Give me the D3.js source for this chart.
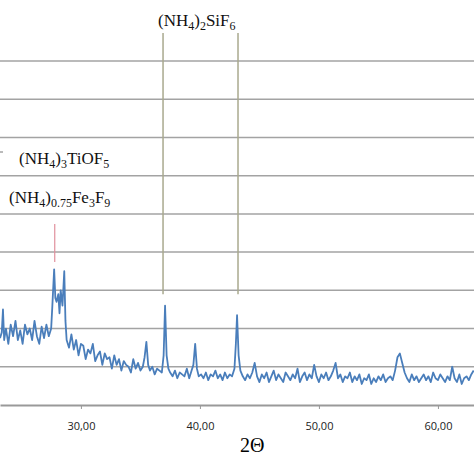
<!DOCTYPE html>
<html>
<head>
<meta charset="utf-8">
<script src="https://cdn.jsdelivr.net/npm/d3@7"></script>
<style>
  body { margin: 0; background: #fff; }
  .tick-label { font-family: "Open Sans", "DejaVu Sans", sans-serif; font-size: 11px; fill: #222; }
  .phase { font-family: "Liberation Serif", "DejaVu Serif", serif; font-size: 17px; fill: #111; }
</style>
</head>
<body>
<div id="chart"></div>
<script>
// 2-theta positions (deg)
var theta = [23.2,23.35,23.45,23.55,23.7,23.9,24.1,24.3,24.5,24.7,24.9,25.1,25.3,25.5,25.7,25.9,26.1,26.3,26.5,26.7,26.9,27.1,27.3,27.5,27.6,27.75,27.85,27.95,28.1,28.2,28.3,28.45,28.6,28.7,28.8,29.0,29.2,29.4,29.6,29.8,30.0,30.2,30.4,30.6,30.8,31.0,31.2,31.4,31.6,31.8,32.0,32.2,32.4,32.6,32.8,33.0,33.2,33.4,33.6,33.8,34.0,34.2,34.4,34.6,34.8,35.0,35.2,35.35,35.5,35.65,35.8,36.0,36.2,36.4,36.6,36.8,36.95,37.07,37.2,37.35,37.5,37.7,37.9,38.1,38.3,38.5,38.7,38.9,39.1,39.3,39.45,39.6,39.75,39.9,40.1,40.3,40.5,40.7,40.9,41.1,41.3,41.5,41.7,41.9,42.1,42.3,42.5,42.7,42.9,43.02,43.12,43.25,43.4,
  43.6,43.8,44.0,44.2,44.4,44.6,44.8,45.0,45.2,45.4,45.6,45.8,46.0,46.2,46.4,46.6,46.8,47.0,47.2,47.4,47.6,47.8,48.0,48.2,48.4,48.6,48.8,49.0,49.2,49.4,49.6,49.8,50.0,50.2,50.4,50.6,50.8,51.0,51.2,51.4,51.6,51.8,52.0,52.2,52.4,52.6,52.8,53.0,53.2,53.4,53.6,53.8,54.0,54.2,54.4,54.6,54.8,55.0,55.2,55.4,55.6,55.8,56.0,56.2,56.4,56.6,56.8,57.0,57.2,57.4,57.6,57.8,58.0,58.2,58.4,58.6,58.8,59.0,59.2,59.4,59.6,59.8,60.0,60.2,60.4,60.6,60.8,61.0,61.2,61.4,61.6,61.8,62.0,62.2,62.4,62.6,62.8,63.0];
// intensity, in grid-line units
var intensity = [1.75,1.9,2.5,1.7,2.0,1.6,2.1,1.8,2.2,1.7,1.95,1.6,2.1,1.85,2.0,1.7,2.2,1.8,1.6,2.05,1.75,2.1,1.8,2.0,2.6,3.55,2.8,2.7,2.9,2.4,3.0,2.6,3.5,2.2,1.7,1.5,1.85,1.45,1.7,1.3,1.6,1.55,1.2,1.45,1.35,1.6,1.15,1.3,1.4,1.05,1.35,1.2,1.25,0.95,1.3,1.05,1.2,0.9,1.15,1.05,1.0,0.85,1.2,0.95,1.1,0.9,1.0,1.25,1.65,1.05,0.9,1.0,0.8,0.95,0.9,0.85,1.3,2.6,1.3,0.95,0.85,0.75,0.9,0.7,0.85,0.8,0.75,0.95,0.7,0.9,1.05,1.6,0.95,0.75,0.8,0.7,0.85,0.65,0.8,0.75,0.9,0.7,0.8,0.65,0.85,0.7,0.8,0.75,0.95,1.6,2.35,1.3,0.9,
  0.75,0.65,0.8,0.7,0.85,1.1,0.75,0.6,0.8,0.7,0.85,0.6,0.75,0.9,0.65,0.8,0.7,0.6,0.85,0.75,0.65,0.8,0.7,0.95,0.6,0.75,0.85,0.65,0.8,0.7,1.05,0.75,0.6,0.8,0.7,0.85,0.65,0.75,0.9,1.1,0.7,0.8,0.6,0.75,0.7,0.85,0.6,0.75,0.65,0.8,0.55,0.7,0.65,0.8,0.55,0.7,0.6,0.75,0.65,0.8,0.6,0.7,0.75,0.65,0.9,1.25,1.35,1.1,0.85,0.7,0.6,0.8,0.65,0.75,0.6,0.7,0.8,0.65,0.75,0.6,0.85,0.7,0.65,0.8,0.7,0.6,0.75,0.65,1.0,0.7,0.6,0.8,0.55,0.7,0.75,0.65,0.8,0.9];
var xTicks = [30, 40, 50, 60];
var yGrid = [1, 2, 3, 4, 5, 6, 7, 8, 9];
// reference line positions
var sifLines = [36.9, 43.2];
var feLine = 27.8;

var svgWidth = 474, svgHeight = 474;
var svg = d3.select("#chart").append("svg")
  .attr("width", svgWidth).attr("height", svgHeight);

var x = d3.scaleLinear().domain([23.2, 63.03]).range([0, 474]);
var y = d3.scaleLinear().domain([0, 9]).range([405, 61]);

// horizontal grid lines
svg.append("g").selectAll("line").data(yGrid).join("line")
  .attr("x1", 0).attr("x2", svgWidth)
  .attr("y1", d => y(d)).attr("y2", d => y(d))
  .attr("stroke", "#a3a3a3").attr("stroke-width", 1.5);

// phase reference lines
svg.append("g").selectAll("line").data(sifLines).join("line")
  .attr("x1", d => x(d)).attr("x2", d => x(d))
  .attr("y1", 33).attr("y2", y(2.9))
  .attr("stroke", "#a9a98e").attr("stroke-width", 1.5);
svg.append("line")
  .attr("x1", x(feLine)).attr("x2", x(feLine))
  .attr("y1", 224).attr("y2", 262)
  .attr("stroke", "#e0909c").attr("stroke-width", 1.2);
svg.append("line")
  .attr("x1", 0).attr("x2", 3).attr("y1", 152).attr("y2", 152)
  .attr("stroke", "#777").attr("stroke-width", 1);

// pattern
var line = d3.line().x((d, i) => x(theta[i])).y(d => y(d));
svg.append("path").datum(intensity)
  .attr("d", line)
  .attr("fill", "none").attr("stroke", "#4a7ebb").attr("stroke-width", 1.8)
  .attr("stroke-linejoin", "round");

// x axis
var xAxis = d3.axisBottom(x).tickValues(xTicks).tickSize(4).tickSizeOuter(0)
  .tickFormat(d => d3.format(".2f")(d).replace(".", ","));
var gx = svg.append("g").attr("transform", "translate(0,405)").call(xAxis);
gx.select(".domain").attr("stroke", "#999").attr("stroke-width", 2);
gx.selectAll(".tick line").attr("stroke", "#999");
gx.selectAll(".tick text").attr("class", "tick-label").attr("dy", "1.6em");

svg.append("text").attr("x", x(44.4)).attr("y", 452)
  .attr("text-anchor", "middle")
  .style("font-family", "Liberation Serif, serif").style("font-size", "20px")
  .text("2Θ");

// phase labels with subscripts
function phaseLabel(px, py, parts) {
  var t = svg.append("text").attr("class", "phase").attr("x", px).attr("y", py);
  parts.forEach((p, i) => {
    var sub = p[1], prev = i > 0 && parts[i - 1][1];
    var s = t.append("tspan").text(p[0])
      .attr("dy", sub && !prev ? 4 : (!sub && prev ? -4 : 0));
    if (sub) s.attr("font-size", "12px");
  });
}
phaseLabel(158, 26, [["(NH"], ["4", 1], [")"], ["2", 1], ["SiF"], ["6", 1]]);
phaseLabel(19, 164, [["(NH"], ["4", 1], [")"], ["3", 1], ["TiOF"], ["5", 1]]);
phaseLabel(9, 203, [["(NH"], ["4", 1], [")"], ["0.75", 1], ["Fe"], ["3", 1], ["F"], ["9", 1]]);
</script>
</body>
</html>
